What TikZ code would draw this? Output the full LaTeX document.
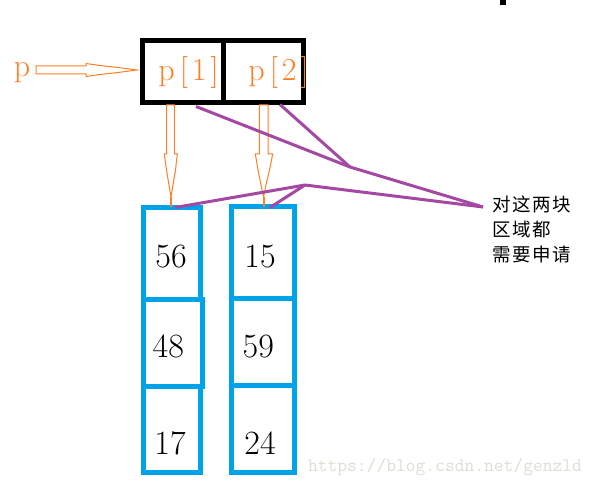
\documentclass[tikz,border=0pt]{standalone}
\usepackage{fontspec}
\newfontfamily\cjk[LetterSpace=8]{Noto Sans CJK SC}
\definecolor{paintorange}{RGB}{255,127,39}
\definecolor{paintpurple}{RGB}{163,73,164}
\definecolor{paintblue}{RGB}{0,162,232}
\definecolor{wmgray}{RGB}{222,222,214}
\newcommand{\spacedidx}[1]{p\kern5pt[\kern4pt#1\kern4pt]}
\begin{document}
\begin{tikzpicture}[x=1pt,y=-1pt,
  ptrbox/.style={draw=black,line width=5pt,inner sep=0pt,outer sep=0pt,minimum height=62pt},
  cellbox/.style={draw=paintblue,line width=5pt,inner sep=0pt,outer sep=0pt},
  ptrtext/.style={text=paintorange,inner sep=0pt,font=\fontsize{32}{32}\selectfont},
  numtext/.style={text=black,inner sep=0pt,font=\fontsize{34}{34}\selectfont},
  hollow/.style={draw=paintorange,line width=1pt,fill=white},
  stub/.style={draw=paintorange,line width=2pt},
  link/.style={draw=paintpurple,line width=3pt,line join=round}]
\useasboundingbox (0,0) rectangle (597,489);
\fill[white] (0,0) rectangle (597,489);
% stray mark at top
\fill[black] (500,0) rectangle (506,5);

% pointer array
\node[ptrbox,minimum width=81pt] (p1) at (183,71.5) {};
\node[ptrbox,minimum width=80pt] (p2) at (263.5,71.5) {};
\node[ptrtext] (t1) at (188.5,73) {\spacedidx{1}};
\node[ptrtext] (t2) at (278.5,73) {\spacedidx{2}};
\node[text=paintorange,inner sep=0pt,font=\fontsize{32}{32}\selectfont] (p) at (22,73) {p};

% hollow arrow p -> p[1]
\coordinate (pa) at (36,70);
\coordinate (pb) at (137,70);
\draw[hollow] (36,66) -- (86,66) -- (86,63.5) -- (100,65.5) -- (118,67.5) -- (pb) -- (118,72.5) -- (100,74.5) -- (86,76.5) -- (86,74) -- (36,74) -- cycle;

% blue cells
\node[cellbox,minimum width=57.3pt,minimum height=91.7pt] (a1) at (172.15,253.35) {};
\node[cellbox,minimum width=57.3pt,minimum height=85.7pt] (a3) at (172.15,429.65) {};
\node[cellbox,minimum width=59pt,minimum height=87.6pt] (a2) at (173,343) {};
\node[cellbox,minimum width=62.4pt,minimum height=91.4pt] (b1) at (263,252.5) {};
\node[cellbox,minimum width=62.4pt,minimum height=87.6pt] (b2) at (263,342) {};
\node[cellbox,minimum width=62.4pt,minimum height=86.7pt] (b3) at (263,429.15) {};

\node[numtext] (n56) at (171,256.7) {56};
\node[numtext] (n48) at (168.3,346.7) {48};
\node[numtext] (n17) at (170,443) {17};
\node[numtext] (n15) at (260,256.7) {15};
\node[numtext] (n59) at (258.3,346.7) {59};
\node[numtext] (n24) at (260,443) {24};

% hollow down arrows
\draw[hollow] (166.7,105) -- (166.7,154) -- (164.3,154) -- (166.5,170) -- (169,185) -- (171,197) -- (173,185) -- (175.5,170) -- (177.3,154) -- (174.3,154) -- (174.3,105) -- cycle;
\draw[stub] (171,197) -- (a1.north -| 171,0);
\draw[hollow] (259.3,105) -- (259.3,154) -- (255.3,154) -- (258,170) -- (261,185) -- (263.5,197) -- (266,185) -- (269.5,170) -- (272.7,154) -- (268,154) -- (268,105) -- cycle;
\draw[stub] (263.5,197) -- (b1.north -| 263.5,0);

% purple links
\coordinate (j1) at (350,167);
\coordinate (j2) at (305,185);
\coordinate (tip) at (483,207);
\coordinate (s1) at (196,106.5);
\coordinate (s2) at (280,104.5);
\coordinate (s3) at (175,207.5);
\coordinate (s4) at (270,207.5);
\draw[link] (s1) -- (j1) -- (tip);
\draw[link] (s2) -- (j1);
\draw[link] (s3) -- (j2) -- (tip);
\draw[link] (s4) -- (j2);

\node[anchor=north west,inner sep=0pt,align=left,font=\cjk\fontsize{18.5}{25}\selectfont] (note) at (492.5,195.5) {对这两块\\区域都\\需要申请};

% watermark
\node[text=wmgray,inner sep=0pt,font=\ttfamily\fontsize{19}{19}\selectfont] (wm) at (445,467) {https://blog.csdn.net/genzld};
\end{tikzpicture}
\end{document}
